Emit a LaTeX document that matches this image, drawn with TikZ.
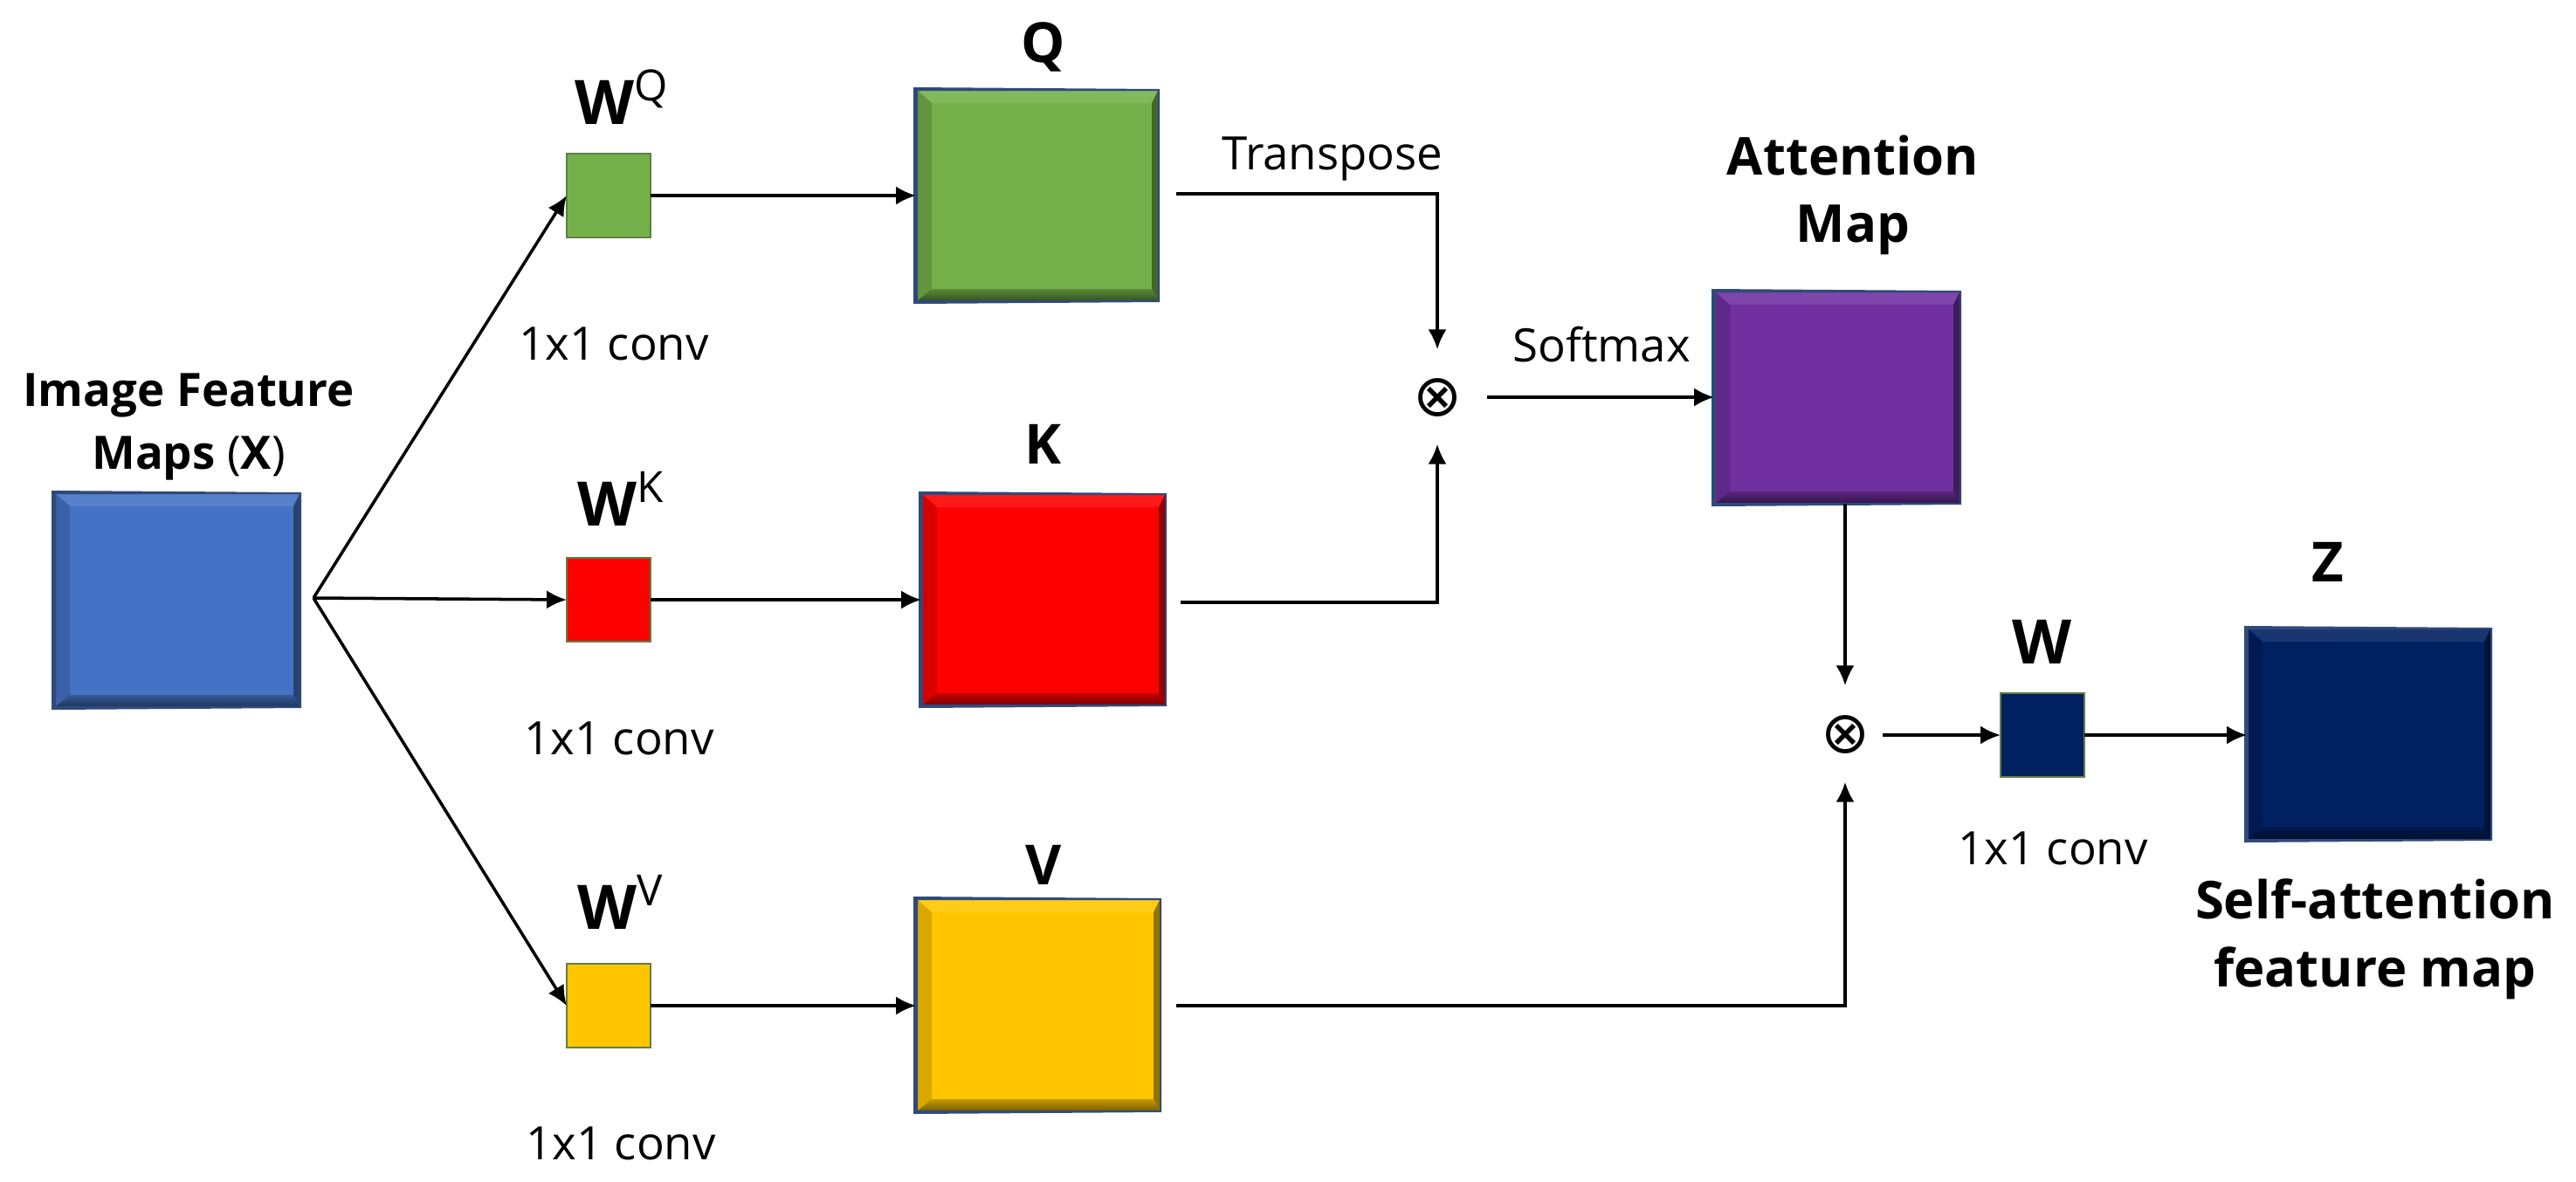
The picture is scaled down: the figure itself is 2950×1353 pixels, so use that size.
\documentclass[tikz,border=0pt]{standalone}
\usepackage{fontspec}
\setmainfont{Open Sans}
\newfontfamily\symf{DejaVu Sans}
\usetikzlibrary{arrows.meta,calc}
\definecolor{cblue}{HTML}{4472C4}
\definecolor{cgreen}{HTML}{74B14A}
\definecolor{cred}{HTML}{FF0000}
\definecolor{cyellow}{HTML}{FFC600}
\definecolor{cpurple}{HTML}{7030A0}
\definecolor{cnavy}{HTML}{002060}
\definecolor{cedge}{HTML}{5F7F45}
\definecolor{cframe}{HTML}{2F4A7A}
\tikzset{
 x=0.01cm,y=-0.01cm,
 smallbox/.style={draw=cedge,line width=0.7pt,fill=#1,minimum width=0.96cm,minimum height=0.96cm,inner sep=0,outer sep=0},
 conn/.style={line width=1.0pt,-{Latex[length=6.5pt,width=6pt]}},
 bigtext/.style={font=\fontsize{17}{18}\selectfont\bfseries,inner sep=0,anchor=base},
 imgtext/.style={font=\fontsize{15}{18}\selectfont\bfseries,inner sep=0,anchor=base},
 labtext/.style={font=\fontsize{15}{16}\selectfont,inner sep=0,anchor=base},
 opnode/.style={font=\symf\fontsize{19}{20}\selectfont,inner sep=0,minimum size=0.48cm}
}
% bevelled map box
\newcommand{\mapbox}[6]{%
 \node[minimum width={(#4-#2)*0.01cm},minimum height={(#5-#3)*0.01cm},inner sep=0,outer sep=0,fill=#6] (#1) at ({(#2+#4)/2},{(#3+#5)/2}) {};
 \coordinate (nw) at ($(#1.north west)+(-3,-3)$);
 \coordinate (sw) at ($(#1.south west)+(-3,3)$);
 \coordinate (ne) at ($(#1.north east)+(0,-1)$);
 \coordinate (se) at ($(#1.south east)+(0,1)$);
 \coordinate (anw) at ($(#1.north west)+(2,1)$);
 \coordinate (asw) at ($(#1.south west)+(2,-1)$);
 \coordinate (ane) at ($(#1.north east)+(-2,1)$);
 \coordinate (ase) at ($(#1.south east)+(-2,-1)$);
 \coordinate (inw) at ($(#1.north west)+(18,15)$);
 \coordinate (isw) at ($(#1.south west)+(18,-14)$);
 \coordinate (ine) at ($(#1.north east)+(-9,15)$);
 \coordinate (ise) at ($(#1.south east)+(-9,-14)$);
 \fill[#6!90!white] (anw)--(ane)--(ine)--(inw)--cycle;
 \fill[#6!85!black] (anw)--(asw)--(isw)--(inw)--cycle;
 \fill[#6!58!black] (ane)--(ase)--(ise)--(ine)--cycle;
 \shade[top color=#6!78!black,bottom color=#6!48!black] (asw)--(ase)--(ise)--(isw)--cycle;
 \fill[cframe,even odd rule] (nw)--(ne)--(se)--(sw)--cycle (anw)--(ane)--(ase)--(asw)--cycle;
}
\begin{document}
\begin{tikzpicture}
\useasboundingbox (0,0) rectangle (2950,1353);
\mapbox{xmap}{62}{565}{345}{810}{cblue}
\mapbox{qmap}{1049}{103}{1328}{345}{cgreen}
\mapbox{kmap}{1055}{566}{1336}{808}{cred}
\mapbox{vmap}{1049}{1030}{1330}{1273}{cyellow}
\mapbox{amap}{1963}{334}{2246}{577}{cpurple}
\mapbox{zmap}{2573}{720}{2854}{962}{cnavy}
\node[smallbox=cgreen] (wq) at (697,224) {};
\node[smallbox=cred] (wk) at (697,687) {};
\node[smallbox=cyellow] (wv) at (697,1152) {};
\node[smallbox=cnavy] (ww) at (2339,842) {};
\node[opnode] (op1) at (1646,455) {⊗};
\node[opnode] (op2) at (2113,841) {⊗};
\coordinate (fan) at (359,685);
\coordinate (qturn) at (1646,222);
\coordinate (kturn) at (1646,690);
\coordinate (vturn) at (2113,1152);
\coordinate (qs) at (1347,222);
\coordinate (ks) at (1352,690);
\coordinate (vs) at (1347,1152);
% connectors
\draw[conn] (fan) -- (wq.west);
\draw[conn] (fan) -- (wk.west);
\draw[conn] (fan) -- (wv.west);
\draw[conn] (wq.east) -- (qmap.west |- wq.east);
\draw[conn] (wk.east) -- (kmap.west |- wk.east);
\draw[conn] (wv.east) -- (vmap.west |- wv.east);
\draw[conn,shorten >=0.30cm] (qs) -- (qturn) -- (op1.north);
\draw[conn,shorten >=0.29cm] (ks) -- (kturn) -- (op1.south);
\draw[conn,shorten <=0.28cm] (op1.east) -- (amap.west |- op1.east);
\draw[conn,shorten >=0.31cm] (amap.south -| op2) -- (op2.north);
\draw[conn,shorten >=0.30cm] (vs) -- (vturn) -- (op2.south);
\draw[conn,shorten <=0.14cm] (op2.east |- ww.west) -- (ww.west);
\draw[conn] (ww.east) -- (zmap.west |- ww.east);
% labels
\node[imgtext] (t1) at (216,465) {Image Feature};
\node[imgtext] (t2) at (216,537) {Maps {\mdseries(}X{\mdseries)}};
\node[bigtext] (t3) at (713,142) {\fontsize{20}{22}\selectfont W\textsuperscript{\mdseries Q}};
\node[bigtext] (t4) at (711,602) {\fontsize{20}{22}\selectfont W\textsuperscript{\mdseries K}};
\node[bigtext] (t5) at (711,1064) {\fontsize{20}{22}\selectfont W\textsuperscript{\mdseries V}};
\node[bigtext] (t6) at (2338,760) {\fontsize{20}{22}\selectfont W};
\node[bigtext] (t7) at (1195,71) {\fontsize{18}{20}\selectfont Q};
\node[bigtext] (t8) at (1195,531) {\fontsize{18}{20}\selectfont K};
\node[bigtext] (t9) at (1195,1013) {\fontsize{18}{20}\selectfont V};
\node[bigtext] (t10) at (2666,666) {\fontsize{18}{20}\selectfont Z};
\node[bigtext] (t11) at (2122,200) {Attention};
\node[bigtext] (t12) at (2122,277) {Map};
\node[bigtext] (t13) at (2720,1052) {Self-attention};
\node[bigtext] (t14) at (2720,1130) {feature map};
\node[labtext] (l1) at (703,412) {1x1 conv};
\node[labtext] (l2) at (709,864) {1x1 conv};
\node[labtext] (l3) at (711,1328) {1x1 conv};
\node[labtext] (l4) at (2351,990) {1x1 conv};
\node[labtext] (l5) at (1526,194) {Transpose};
\node[labtext] (l6) at (1834,414) {Softmax};
\end{tikzpicture}
\end{document}
